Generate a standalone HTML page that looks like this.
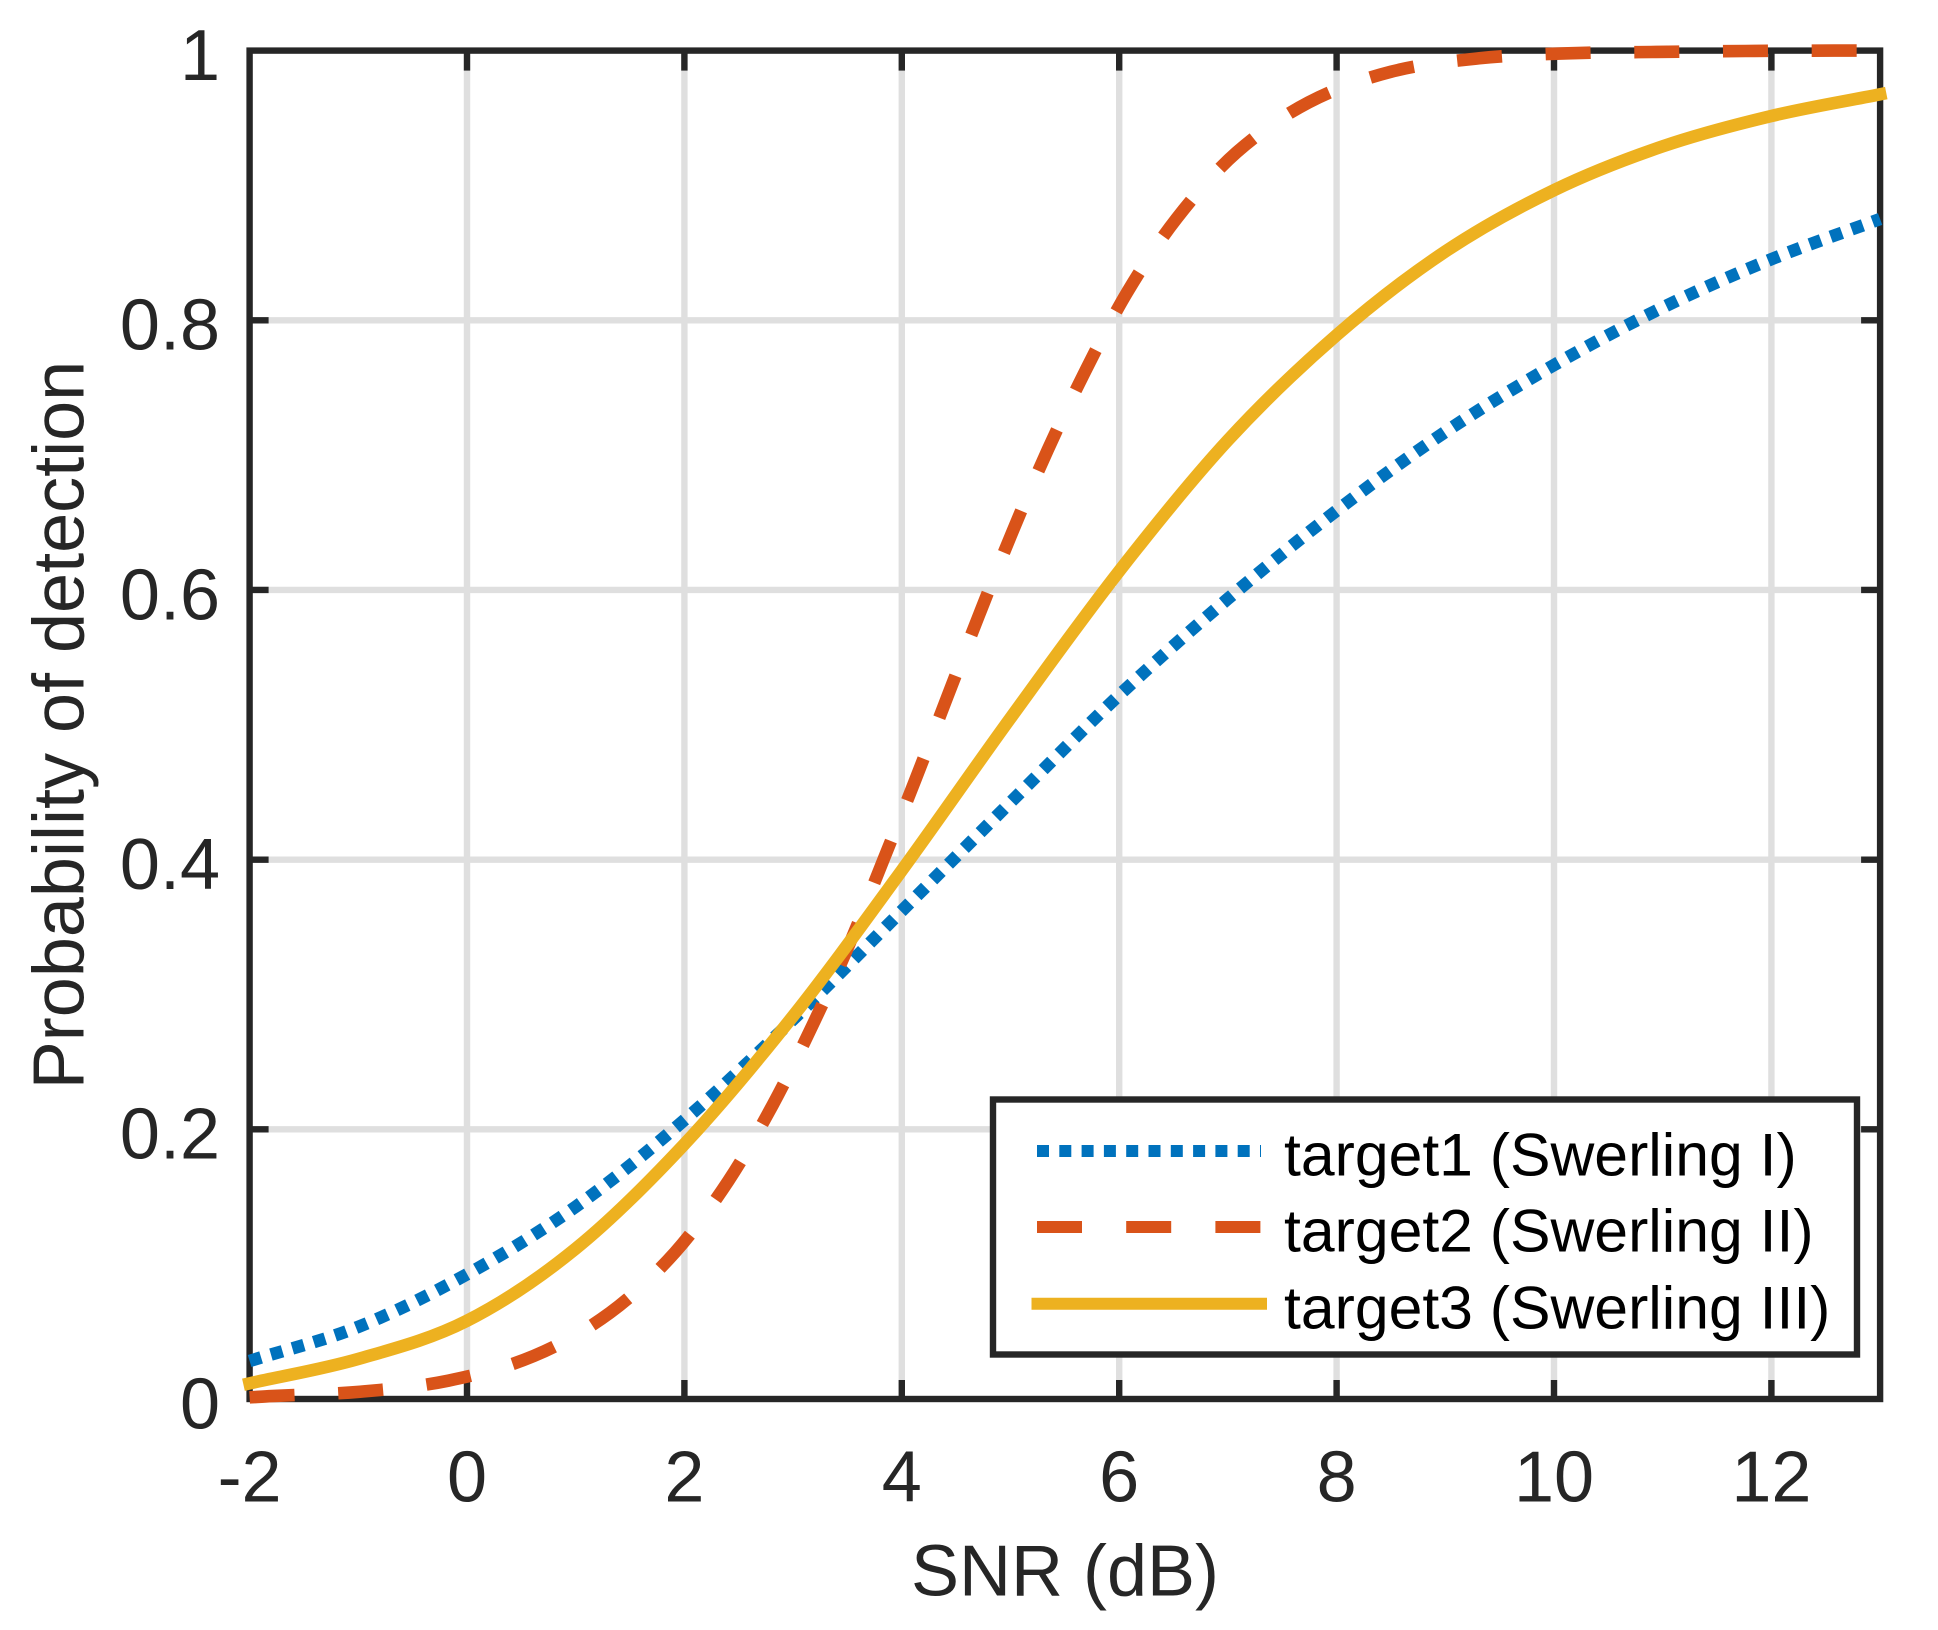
<!DOCTYPE html>
<html lang="en">
<head>
<meta charset="utf-8">
<title>Probability of detection vs SNR</title>
<style>
html,body{margin:0;padding:0;background:#fff;width:1938px;height:1630px;overflow:hidden}
svg{display:block;font-family:"Liberation Sans",Arial,sans-serif}
</style>
</head>
<body>
<svg id="chart" xmlns="http://www.w3.org/2000/svg" width="1938" height="1630" viewBox="0 0 1938 1630">
  <rect x="0" y="0" width="1938" height="1630" fill="#ffffff"/>
  <g id="grid"></g>
  <g id="axes"></g>
  <g id="series"></g>
  <text x="1065" y="1595.5" font-size="72" text-anchor="middle" fill="#262626">SNR (dB)</text>
  <text transform="translate(83.4 725) rotate(-90)" font-size="72" text-anchor="middle" fill="#262626">Probability of detection</text>
  <g>
    <rect x="993" y="1099.5" width="864" height="255" fill="#ffffff" stroke="#262626" stroke-width="6.4"/>
    <g>
      <line x1="1037" y1="1151" x2="1261" y2="1151" stroke="#0072BD" stroke-width="12" stroke-dasharray="12 10.3"/>
      <text x="1284" y="1175.7" font-size="60.7" fill="#000000">target1 (Swerling I)</text>
    </g>
    <g>
      <line x1="1037" y1="1227" x2="1261" y2="1227" stroke="#D95319" stroke-width="12" stroke-dasharray="45 44.2"/>
      <text x="1284" y="1251.6" font-size="60.7" fill="#000000">target2 (Swerling II)</text>
    </g>
    <g>
      <line x1="1031.5" y1="1303.7" x2="1267" y2="1303.7" stroke="#EDB120" stroke-width="12"/>
      <text x="1284" y="1328.5" font-size="60.7" fill="#000000">target3 (Swerling III)</text>
    </g>
  </g>
</svg>
<script>
const xTickValues = [-2, 0, 2, 4, 6, 8, 10, 12];
const xTickLabels = ['-2', '0', '2', '4', '6', '8', '10', '12'];
const yTickValues = [0, 0.2, 0.4, 0.6, 0.8, 1];
const yTickLabels = ['0', '0.2', '0.4', '0.6', '0.8', '1'];

const target1Snr = [-2, -1, 0, 1, 2, 3, 4, 5, 6, 7, 8, 9, 10, 11, 12, 13];
const target1Prob = [0.0282, 0.0535, 0.0925, 0.1426, 0.2069, 0.2815, 0.362, 0.4425, 0.522, 0.5935, 0.6588, 0.7172, 0.7668, 0.8095, 0.8453, 0.8751];

const target2Snr = [-2, -1.797, -0.984, -0.172, 0.614, 1.316, 1.914, 2.404, 2.812, 3.18, 3.514, 3.824, 4.124, 4.419, 4.713, 5.018, 5.342, 5.692, 6.075, 6.529, 7.081, 7.743, 8.5, 9.313, 10.13, 10.94, 11.76, 12.58, 13];
const target2Prob = [0.0012, 0.0022, 0.0054, 0.0136, 0.0319, 0.064, 0.1088, 0.1617, 0.218, 0.2774, 0.3367, 0.3985, 0.4591, 0.5208, 0.5819, 0.6432, 0.7038, 0.763, 0.821, 0.8756, 0.9246, 0.9616, 0.9843, 0.9943, 0.998, 0.999, 0.9997, 1, 1];

const target3Snr = [-2, -1, 0, 1, 2, 3, 4, 5, 6, 7, 8, 9, 10, 11, 12, 13];
const target3Prob = [0.0116, 0.0297, 0.058, 0.1115, 0.189, 0.284, 0.392, 0.505, 0.614, 0.711, 0.789, 0.851, 0.8965, 0.929, 0.9515, 0.9676];

const SVG_NS = 'http://www.w3.org/2000/svg';
const X_MIN = -2, X_MAX = 13, Y_MIN = 0, Y_MAX = 1;
const LEFT = 249.6, RIGHT = 1880.1, BOTTOM = 1399, TOP = 50.6;
const TICK = 19;
const AXIS_COLOR = '#262626';
const AXIS_WIDTH = 6.4;
const GRID_WIDTH = 6.4;

function xScale(v) { return LEFT + (v - X_MIN) / (X_MAX - X_MIN) * (RIGHT - LEFT); }
function yScale(v) { return BOTTOM - (v - Y_MIN) / (Y_MAX - Y_MIN) * (BOTTOM - TOP); }

function makeLine(parent, x1, y1, x2, y2, color, width) {
  const el = document.createElementNS(SVG_NS, 'line');
  el.setAttribute('x1', x1);
  el.setAttribute('y1', y1);
  el.setAttribute('x2', x2);
  el.setAttribute('y2', y2);
  el.setAttribute('stroke', color);
  el.setAttribute('stroke-width', width);
  parent.appendChild(el);
  return el;
}

function makeLabel(parent, x, y, str, anchor) {
  const el = document.createElementNS(SVG_NS, 'text');
  el.setAttribute('x', x);
  el.setAttribute('y', y);
  el.setAttribute('font-size', 72);
  el.setAttribute('fill', AXIS_COLOR);
  el.setAttribute('text-anchor', anchor);
  el.textContent = str;
  parent.appendChild(el);
  return el;
}

function curvePath(xs, ys) {
  const px = xs.map(xScale);
  const py = ys.map(yScale);
  const n = px.length;
  const slopes = px.map(function (_, i) {
    const a = Math.max(i - 1, 0);
    const b = Math.min(i + 1, n - 1);
    return (py[b] - py[a]) / (px[b] - px[a]);
  });
  let d = 'M' + px[0].toFixed(2) + ' ' + py[0].toFixed(2);
  for (let i = 0; i < n - 1; i++) {
    const h = (px[i + 1] - px[i]) / 3;
    d += ' C' + (px[i] + h).toFixed(2) + ' ' + (py[i] + slopes[i] * h).toFixed(2) +
      ' ' + (px[i + 1] - h).toFixed(2) + ' ' + (py[i + 1] - slopes[i + 1] * h).toFixed(2) +
      ' ' + px[i + 1].toFixed(2) + ' ' + py[i + 1].toFixed(2);
  }
  return d;
}

const gridGroup = document.getElementById('grid');
const axesGroup = document.getElementById('axes');
const seriesGroup = document.getElementById('series');

xTickValues.forEach(function (v) {
  if (v === X_MIN || v === X_MAX) return;
  const gl = makeLine(gridGroup, xScale(v), TOP, xScale(v), BOTTOM, '#dfdfdf', GRID_WIDTH);
  
  
});
yTickValues.forEach(function (v) {
  if (v === Y_MIN || v === Y_MAX) return;
  const gl = makeLine(gridGroup, LEFT, yScale(v), RIGHT, yScale(v), '#dfdfdf', GRID_WIDTH);
  
  
});

xTickValues.forEach(function (v, i) {
  const x = xScale(v);
  if (v !== X_MIN && v !== X_MAX) {
    const tb = makeLine(axesGroup, x, BOTTOM, x, BOTTOM - TICK, AXIS_COLOR, AXIS_WIDTH);
    
    
    const tt = makeLine(axesGroup, x, TOP, x, TOP + TICK + 1, AXIS_COLOR, AXIS_WIDTH);
    
    
  }
  const lab = makeLabel(axesGroup, x, 1501.5, xTickLabels[i], 'middle');
  
  
});

yTickValues.forEach(function (v, i) {
  const y = yScale(v);
  if (v !== Y_MIN && v !== Y_MAX) {
    const tl = makeLine(axesGroup, LEFT, y, LEFT + TICK, y, AXIS_COLOR, AXIS_WIDTH);
    
    
    const tr = makeLine(axesGroup, RIGHT, y, RIGHT - TICK, y, AXIS_COLOR, AXIS_WIDTH);
    
    
  }
  const lab = makeLabel(axesGroup, 220, y + 29.3, yTickLabels[i], 'end');
  
  
});

const frame = document.createElementNS(SVG_NS, 'rect');


frame.setAttribute('x', LEFT);
frame.setAttribute('y', TOP);
frame.setAttribute('width', RIGHT - LEFT);
frame.setAttribute('height', BOTTOM - TOP);
frame.setAttribute('fill', 'none');
frame.setAttribute('stroke', AXIS_COLOR);
frame.setAttribute('stroke-width', AXIS_WIDTH);
axesGroup.appendChild(frame);

const line1 = document.createElementNS(SVG_NS, 'path');


line1.setAttribute('d', curvePath(target1Snr, target1Prob));
line1.setAttribute('fill', 'none');
line1.setAttribute('stroke', '#0072BD');
line1.setAttribute('stroke-width', 12.6);
line1.setAttribute('stroke-dasharray', '12 10.3');
seriesGroup.appendChild(line1);

const line2 = document.createElementNS(SVG_NS, 'path');


line2.setAttribute('d', curvePath(target2Snr, target2Prob));
line2.setAttribute('fill', 'none');
line2.setAttribute('stroke', '#D95319');
line2.setAttribute('stroke-width', 12.6);
line2.setAttribute('stroke-dasharray', '45 43.7');
seriesGroup.appendChild(line2);

const line3 = document.createElementNS(SVG_NS, 'path');


line3.setAttribute('d', curvePath(target3Snr, target3Prob));
line3.setAttribute('fill', 'none');
line3.setAttribute('stroke', '#EDB120');
line3.setAttribute('stroke-width', 12.6);
line3.setAttribute('stroke-linecap', 'square');
seriesGroup.appendChild(line3);
</script>
</body>
</html>
